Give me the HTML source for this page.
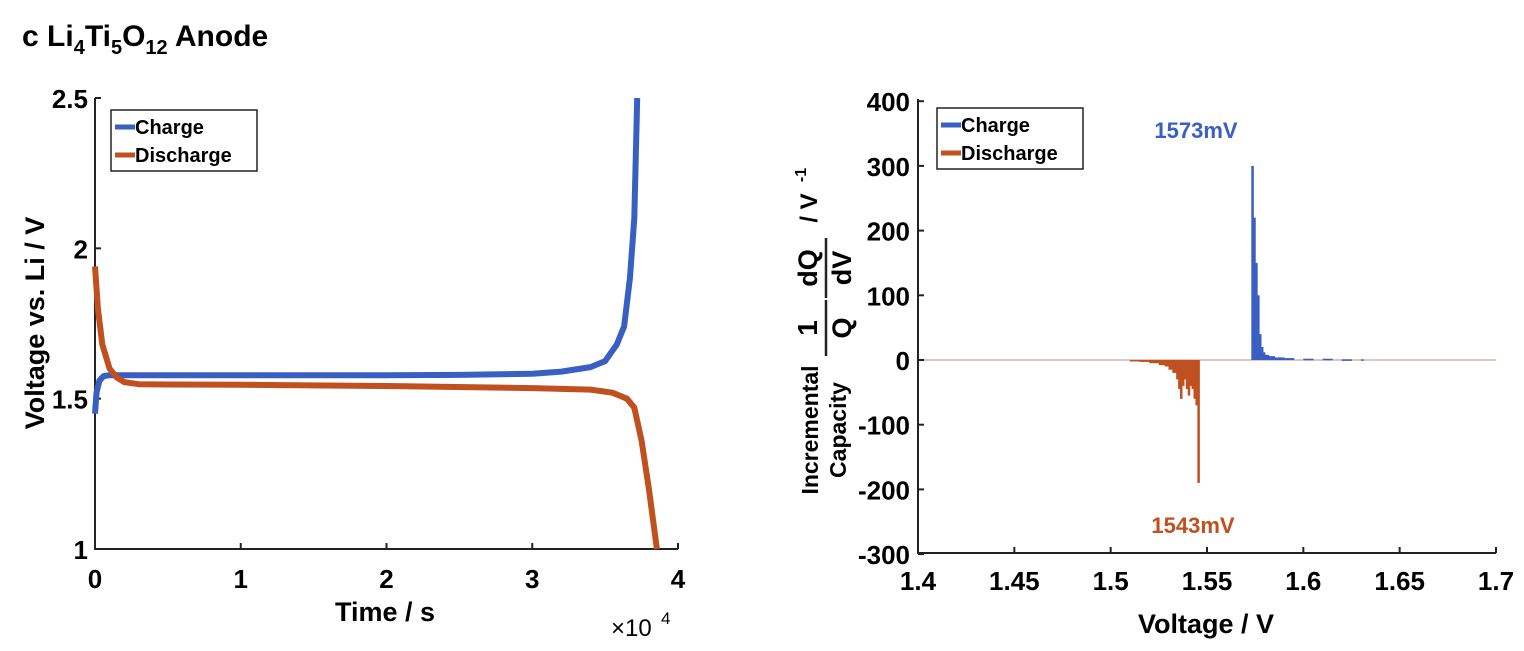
<!DOCTYPE html>
<html><head><meta charset="utf-8"><style>
body{margin:0;background:#fff}
svg{display:block;font-family:"Liberation Sans",Arial,sans-serif;font-weight:bold}
</style></head><body>
<svg id="s" width="1524" height="651" viewBox="0 0 1524 651">
<text x="22" y="46" font-size="30">c Li<tspan font-size="20" dy="8">4</tspan><tspan dy="-8">Ti</tspan><tspan font-size="20" dy="8">5</tspan><tspan dy="-8">O</tspan><tspan font-size="20" dy="8">12</tspan><tspan dy="-8"> Anode</tspan></text>
<g id="L"></g>
<g id="R"></g>
</svg>
<script>
// Left chart data (time in 1e4 s, voltage V)
const chargeT=[0,0.01,0.03,0.06,0.1,0.3,1,2,2.5,3,3.2,3.4,3.5,3.58,3.63,3.67,3.7,3.72];
const chargeV=[1.45,1.52,1.56,1.575,1.578,1.578,1.578,1.578,1.579,1.583,1.59,1.605,1.625,1.68,1.74,1.9,2.1,2.5];
const dischT=[0,0.02,0.05,0.1,0.15,0.2,0.3,0.5,1,2,3,3.4,3.55,3.65,3.7,3.75,3.8,3.855];
const dischV=[1.94,1.8,1.68,1.6,1.57,1.555,1.548,1.547,1.546,1.542,1.535,1.53,1.52,1.5,1.47,1.36,1.2,1.0];
const lxTicks=[0,1,2,3,4];
const lyTicks=[1,1.5,2,2.5];
// Right chart data (voltage V, 1/Q dQ/dV)
const chgV=[1.573,1.574,1.575,1.576,1.577,1.578,1.579,1.58,1.582,1.585,1.59,1.6,1.61,1.62,1.63];
const chgQ=[300,220,150,100,40,20,12,8,6,4,3,2,2,1,1];
const disV=[1.51,1.515,1.52,1.525,1.528,1.53,1.532,1.534,1.535,1.536,1.537,1.538,1.539,1.54,1.541,1.542,1.543,1.544,1.545];
const disQ=[-2,-3,-5,-8,-10,-15,-20,-30,-45,-60,-40,-30,-45,-55,-40,-45,-60,-70,-190];
const rxTicks=[1.4,1.45,1.5,1.55,1.6,1.65,1.7];
const ryTicks=[-300,-200,-100,0,100,200,300,400];

const NS='http://www.w3.org/2000/svg';
function mk(p,t,a,txt){const e=document.createElementNS(NS,t);for(const k in a)e.setAttribute(k,a[k]);if(txt!==undefined)e.textContent=txt;p.appendChild(e);return e;}
const BLUE='#3a5fc2',ORG='#c0501f';

// LEFT
const L=document.getElementById('L');
const lx=v=>95+(v/4)*583, ly=v=>549-(v-1)/1.5*451;
let ax=mk(L,'path',{d:'M95 98 V549 H678',fill:'none',stroke:'#222','stroke-width':2});


lxTicks.forEach(t=>{mk(L,'line',{x1:lx(t),x2:lx(t),y1:549,y2:543,stroke:'#222','stroke-width':2});
 const e=mk(L,'text',{x:lx(t),y:588,'font-size':26,'text-anchor':'middle'},t);
 });
lyTicks.forEach(t=>{mk(L,'line',{x1:95,x2:101,y1:ly(t),y2:ly(t),stroke:'#222','stroke-width':2});
 const e=mk(L,'text',{x:88,y:ly(t)+10,'font-size':26,'text-anchor':'end'},t);
 });
function line(T,V,c,n){const p=mk(L,'path',{d:T.map((t,i)=>(i?'L':'M')+lx(t).toFixed(1)+' '+ly(V[i]).toFixed(1)).join(''),fill:'none',stroke:c,'stroke-width':6,'stroke-linejoin':'round'});
 }
line(chargeT,chargeV,BLUE,'charge-line');
line(dischT,dischV,ORG,'discharge-line');
let e=mk(L,'text',{x:385,y:621,'font-size':27,'text-anchor':'middle'},'Time / s');

e=mk(L,'text',{x:611,y:636,'font-size':24,'font-weight':'normal'},'×10');

mk(L,'text',{x:661,y:624,'font-size':17,'font-weight':'normal'},'4');
e=mk(L,'text',{x:0,y:0,'font-size':27,'text-anchor':'middle',transform:'translate(44,323) rotate(-90)'},'Voltage vs. Li / V');

function legend(P,x,y,n){const g=mk(P,'g',{});
 mk(g,'rect',{x:x,y:y,width:146,height:61,fill:'#fff',stroke:'#222','stroke-width':1.5});
 mk(g,'line',{x1:x+4,x2:x+24,y1:y+17,y2:y+17,stroke:BLUE,'stroke-width':5});
 mk(g,'line',{x1:x+4,x2:x+24,y1:y+45,y2:y+45,stroke:ORG,'stroke-width':5});
 mk(g,'text',{x:x+24,y:y+24,'font-size':20},'Charge');
 mk(g,'text',{x:x+24,y:y+52,'font-size':20},'Discharge');}
legend(L,111,110,'left-legend');

// RIGHT
const R=document.getElementById('R');
const rx=v=>918+(v-1.4)/0.3*578, ry=v=>360-v*0.647;
mk(R,'line',{x1:918,x2:1496,y1:ry(0),y2:ry(0),stroke:'#d8c8c0','stroke-width':2});
function bars(V,Q,c,n){V.forEach((v,i)=>{const nx=i<V.length-1?Math.min(V[i+1],v+0.005):v+0.001;
 const w=Math.max(rx(nx)-rx(v),2)+0.5;
 const y0=Math.min(ry(Q[i]),ry(0)),h=Math.abs(ry(Q[i])-ry(0));
 const r=mk(R,'rect',{x:rx(v),y:y0,width:w,height:Math.max(h,1.5),fill:c});
 });}
bars(chgV,chgQ,BLUE,'charge-bar');
bars(disV,disQ,ORG,'discharge-bar');
ax=mk(R,'path',{d:'M918 99 V553 H1496',fill:'none',stroke:'#222','stroke-width':2});

rxTicks.forEach(t=>{mk(R,'line',{x1:rx(t),x2:rx(t),y1:553,y2:547,stroke:'#222','stroke-width':2});
 const e=mk(R,'text',{x:rx(t),y:590,'font-size':26,'text-anchor':'middle'},t);
 });
ryTicks.forEach(t=>{mk(R,'line',{x1:918,x2:924,y1:ry(t),y2:ry(t),stroke:'#222','stroke-width':2});
 const e=mk(R,'text',{x:910,y:ry(t)+10,'font-size':26,'text-anchor':'end'},t);
 });
legend(R,937,108,'right-legend');
e=mk(R,'text',{x:1196,y:138,'font-size':22,fill:BLUE,'text-anchor':'middle'},'1573mV');

e=mk(R,'text',{x:1193,y:533,'font-size':22,fill:ORG,'text-anchor':'middle'},'1543mV');

e=mk(R,'text',{x:1206,y:633,'font-size':27,'text-anchor':'middle'},'Voltage / V');

const yt=mk(R,'g',{});

mk(yt,'text',{x:0,y:0,'font-size':23,'text-anchor':'middle',transform:'translate(818,430) rotate(-90)'},'Incremental');
mk(yt,'text',{x:0,y:0,'font-size':23,'text-anchor':'middle',transform:'translate(846,430) rotate(-90)'},'Capacity');
mk(yt,'text',{x:0,y:0,'font-size':28,'text-anchor':'middle',transform:'translate(817,328) rotate(-90)'},'1');
mk(yt,'line',{x1:826,x2:826,y1:300,y2:356,stroke:'#222','stroke-width':2.5});
mk(yt,'text',{x:0,y:0,'font-size':27,'text-anchor':'middle',transform:'translate(851,328) rotate(-90)'},'Q');
mk(yt,'text',{x:0,y:0,'font-size':27,'text-anchor':'middle',transform:'translate(817,268) rotate(-90)'},'dQ');
mk(yt,'line',{x1:826,x2:826,y1:238,y2:298,stroke:'#222','stroke-width':2.5});
mk(yt,'text',{x:0,y:0,'font-size':27,'text-anchor':'middle',transform:'translate(851,268) rotate(-90)'},'dV');
mk(yt,'text',{x:0,y:0,'font-size':24,'text-anchor':'middle',transform:'translate(817,208) rotate(-90)'},'/ V');
mk(yt,'text',{x:0,y:0,'font-size':16,'text-anchor':'middle',transform:'translate(806,175) rotate(-90)'},'-1');
</script>
</body></html>
